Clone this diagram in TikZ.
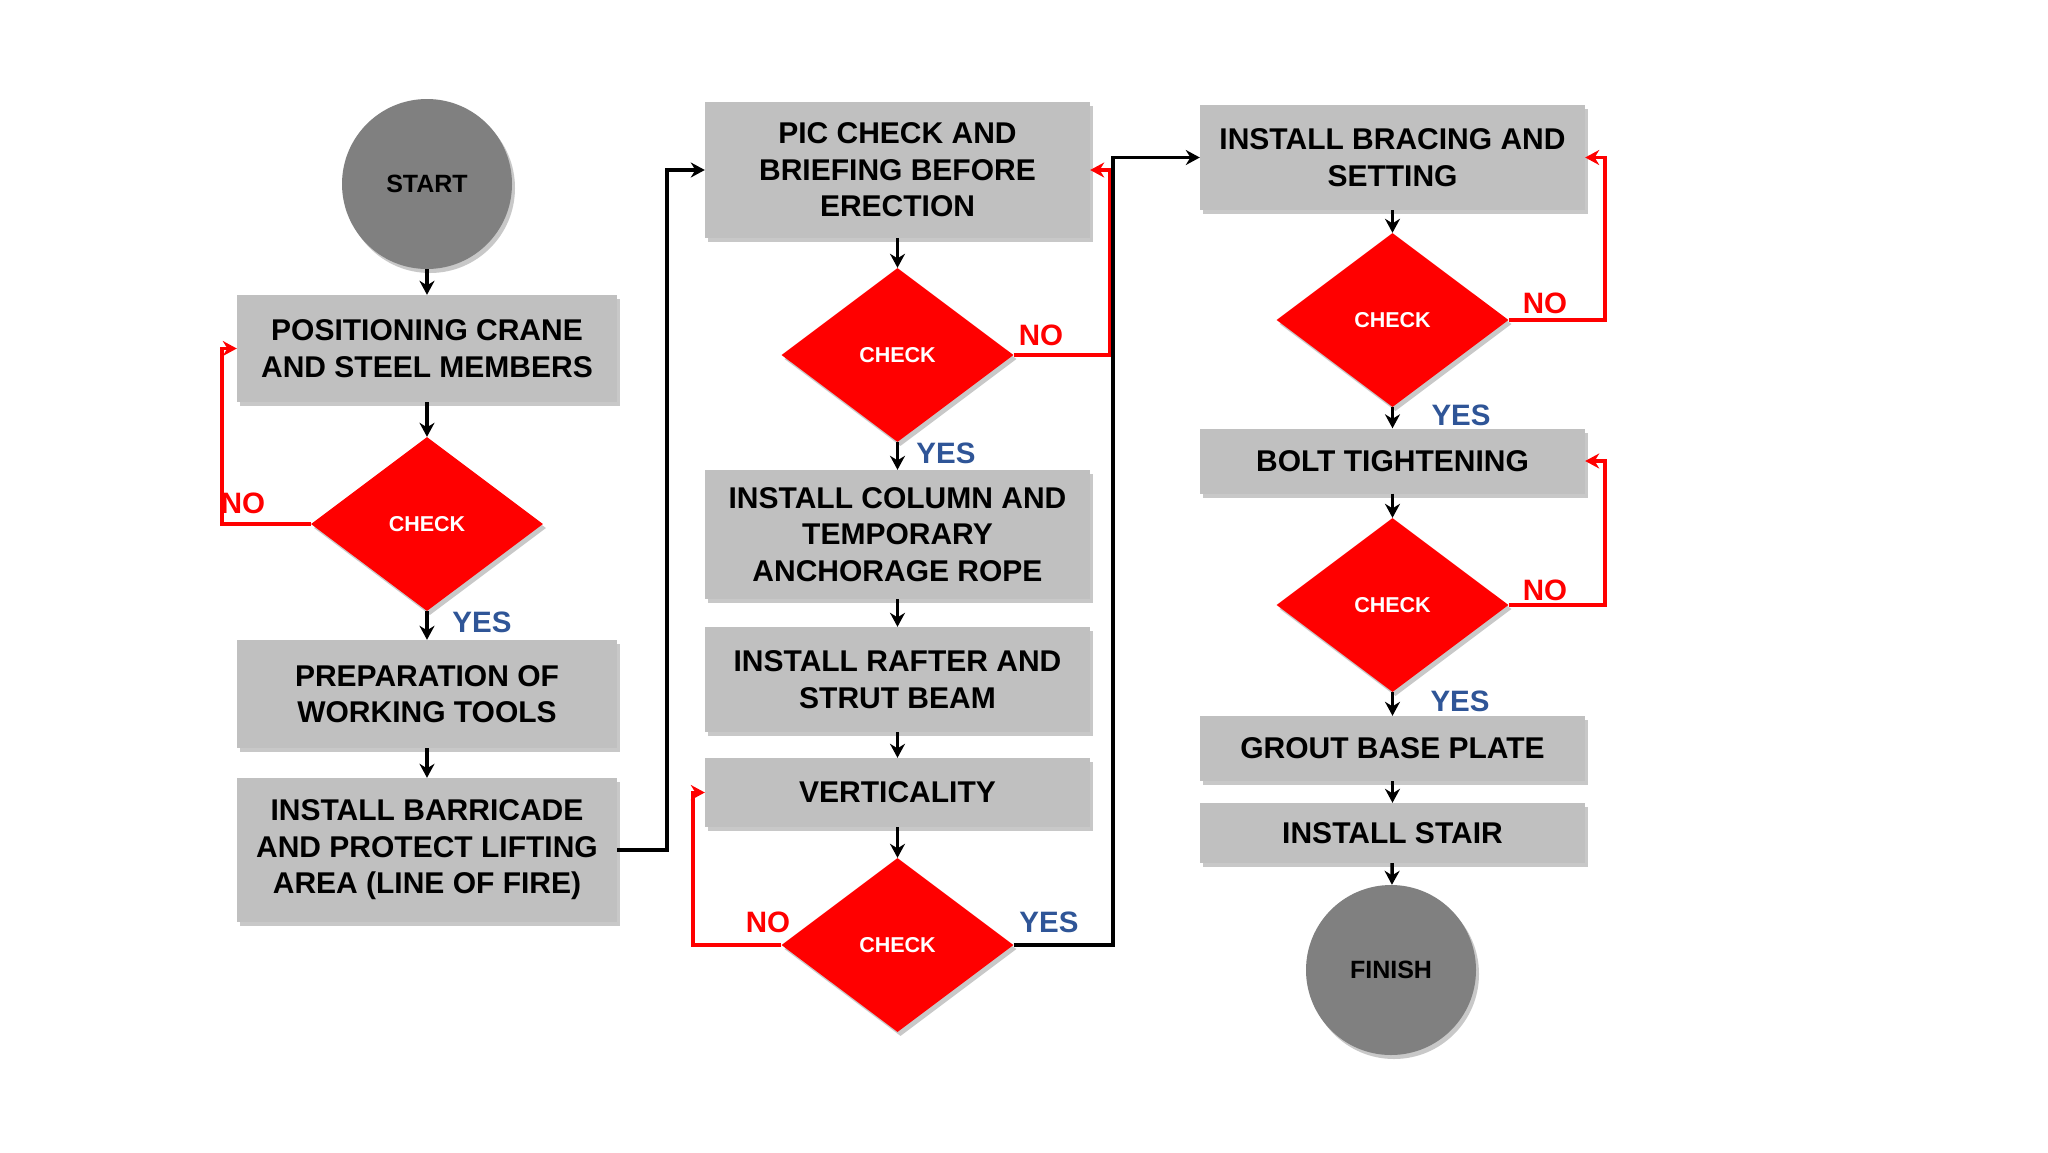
\documentclass[tikz,border=0pt]{standalone}
\usepackage{fontspec}
\setmainfont{Liberation Sans}
\usetikzlibrary{shapes.geometric,arrows.meta,shadows}
\definecolor{boxgray}{HTML}{C0C0C0}
\definecolor{circgray}{HTML}{808080}
\definecolor{yesblue}{HTML}{2F5597}
\definecolor{chkred}{HTML}{FF0000}
\begin{document}
\begin{tikzpicture}[x=1pt,y=-1pt,
  shd/.style={drop shadow={shadow xshift=3pt,shadow yshift=-4pt,opacity=0.3,fill=black!70}},
  box/.style={rectangle, fill=boxgray, shd, align=center, inner sep=0pt,
    font=\fontsize{30}{36.5}\selectfont\bfseries},
  dia/.style={diamond, fill=chkred, shd, minimum width=232pt, minimum height=174pt,
    inner sep=0pt, text=white, font=\fontsize{21.5}{25}\selectfont\bfseries},
  term/.style={circle, fill=circgray, shd, minimum size=170pt, inner sep=0pt,
    font=\fontsize{25}{30}\selectfont\bfseries},
  yeslbl/.style={text=yesblue, inner sep=0pt, font=\fontsize{29.5}{32}\selectfont\bfseries},
  nolbl/.style={text=chkred, inner sep=0pt, font=\fontsize{29.5}{32}\selectfont\bfseries},
  arr/.style={draw=black, line width=3.6pt, -{Stealth[length=14pt,width=15pt]}},
  redarr/.style={draw=chkred, line width=3.6pt, -{Stealth[length=14pt,width=15pt]}}
]
\fill[white] (0,0) rectangle (2048,1152);
\useasboundingbox (0,0) rectangle (2048,1152);

% column 1
\node[term] (start) at (427,184) {START};
\node[box, minimum width=380pt, minimum height=107pt] (pos) at (427,348.5) {POSITIONING CRANE\\AND STEEL MEMBERS};
\node[dia] (d1) at (427,524) {CHECK};
\node[box, minimum width=380pt, minimum height=108pt] (prep) at (427,694) {PREPARATION OF\\WORKING TOOLS};
\node[box, minimum width=380pt, minimum height=144pt] (barr) at (427,850) {INSTALL BARRICADE\\AND PROTECT LIFTING\\AREA (LINE OF FIRE)};

% column 2
\node[box, minimum width=385pt, minimum height=136pt] (pic) at (897.5,170) {PIC CHECK AND\\BRIEFING BEFORE\\ERECTION};
\node[dia] (d2) at (897.5,355) {CHECK};
\node[box, minimum width=385pt, minimum height=129pt] (col) at (897.5,534.5) {INSTALL COLUMN AND\\TEMPORARY\\ANCHORAGE ROPE};
\node[box, minimum width=385pt, minimum height=105pt] (raft) at (897.5,679.5) {INSTALL RAFTER AND\\STRUT BEAM};
\node[box, minimum width=385pt, minimum height=69pt] (vert) at (897.5,792.5) {VERTICALITY};
\node[dia] (d4) at (897.5,945) {CHECK};

% column 3
\node[box, minimum width=385pt, minimum height=105pt] (brace) at (1392.5,157.5) {INSTALL BRACING AND\\SETTING};
\node[dia] (d5) at (1392.5,320) {CHECK};
\node[box, minimum width=385pt, minimum height=65pt] (bolt) at (1392.5,461) {BOLT TIGHTENING};
\node[dia] (d6) at (1392.5,605) {CHECK};
\node[box, minimum width=385pt, minimum height=65pt] (grout) at (1392.5,748.5) {GROUT BASE PLATE};
\node[box, minimum width=385pt, minimum height=60pt] (stair) at (1392.5,833) {INSTALL STAIR};
\node[term] (finish) at (1391,970) {FINISH};

% connectors column 1
\draw[arr] (start) -- (pos);
\draw[arr] (pos) -- (d1);
\draw[arr] (d1.south) -- (prep.north);
\draw[arr] (prep) -- (barr);
\draw[redarr] (d1.west) -| ([xshift=-15pt]pos.west) -- (pos.west);
\coordinate (j1) at (667,170);
\draw[arr] (barr.east) -| (j1) -- (pic.west);

% column 2
\draw[arr] (pic) -- (d2);
\draw[arr] (d2.south) -- (col.north);
\draw[arr] (col) -- (raft);
\draw[arr] (raft) -- (vert);
\draw[arr] (vert) -- (d4.north);
\draw[redarr] (d2.east) -| ([xshift=20pt]pic.east) -- (pic.east);
\draw[redarr] (d4.west) -| ([xshift=-12pt]vert.west) -- (vert.west);
\coordinate (j2) at (1113,157.5);
\draw[arr] (d4.east) -| (j2) -- (brace.west);

% column 3
\draw[arr] (brace) -- (d5);
\draw[arr] (d5.south) -- (bolt.north);
\draw[arr] (bolt) -- (d6.north);
\draw[arr] (d6.south) -- (grout.north);
\draw[arr] (grout) -- (stair);
\draw[arr] (stair) -- (finish);
\draw[redarr] (d5.east) -| ([xshift=20pt]brace.east) -- (brace.east);
\draw[redarr] (d6.east) -| ([xshift=20pt]bolt.east) -- (bolt.east);

% labels
\node[nolbl] (no1) at (243,503) {NO};
\node[yeslbl] (yes1) at (482,622) {YES};
\node[nolbl] (no2) at (1041,335) {NO};
\node[yeslbl] (yes2) at (946,453) {YES};
\node[nolbl] (no4) at (768,922) {NO};
\node[yeslbl] (yes4) at (1049,922) {YES};
\node[nolbl] (no5) at (1545,303) {NO};
\node[yeslbl] (yes5) at (1461,415) {YES};
\node[nolbl] (no6) at (1545,590) {NO};
\node[yeslbl] (yes6) at (1460,701) {YES};
\end{tikzpicture}
\end{document}
